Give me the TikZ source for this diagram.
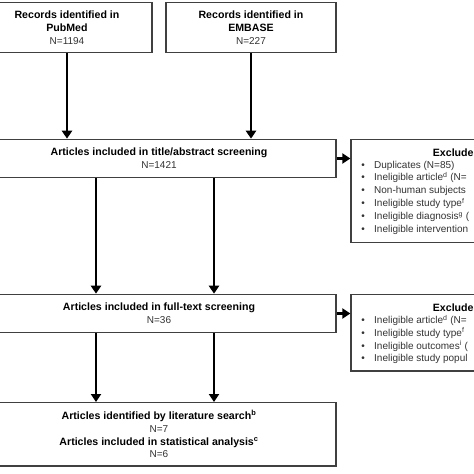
\documentclass[tikz,border=0pt]{standalone}
\usepackage{fontspec}
\setmainfont{Liberation Sans}
\usetikzlibrary{arrows.meta}
\definecolor{boxgray}{HTML}{404040}
\definecolor{txtgray}{HTML}{333333}
\newcommand\hd[1]{{\fontsize{10.6}{12.7}\selectfont\textcolor{black}{\textbf{#1}}}}
\begin{document}
\begin{tikzpicture}[x=1pt,y=-1pt,
  every node/.style={font=\fontsize{10}{12.7}\selectfont, text=txtgray},
  box/.style={draw=boxgray, line width=1.2pt, fill=white, align=center, inner sep=0pt},
  conn/.style={line width=2.6pt, black, -{Triangle[length=8pt,width=10pt]}},
  item/.style={anchor=base west, inner sep=0pt},
  bul/.style={anchor=base, inner sep=0pt}]
\useasboundingbox (0,0) rectangle (474,474);
\clip (0,0) rectangle (474,474);
% main boxes
\node[box, minimum width=170pt, minimum height=50pt] (pub) at (67,27.7)
  {\hd{Records identified in}\\\hd{PubMed}\\N=1194};
\node[box, minimum width=170pt, minimum height=50pt] (emb) at (251,27.7)
  {\hd{Records identified in}\\\hd{EMBASE}\\N=227};
\node[box, minimum width=354pt, minimum height=38.4pt] (scr) at (159,158.5)
  {\hd{Articles included in title/abstract screening}\\N=1421};
\node[box, minimum width=354pt, minimum height=38.4pt] (full) at (159,313.5)
  {\hd{Articles included in full-text screening}\\N=36};
\node[box, minimum width=354pt, minimum height=63.3pt] (fin) at (159,434.3)
  {\hd{Articles identified by literature search\textsuperscript{b}}\\N=7\\
   \hd{Articles included in statistical analysis\textsuperscript{c}}\\N=6};
% excluded boxes
\node[box, minimum width=210pt, minimum height=103.4pt] (ex1) at (456,191) {};
\node[box, minimum width=210pt, minimum height=76.7pt] (ex2) at (456,332.7) {};
\node[item] (ex1h) at (432.7,156.4) {\hd{Excluded}};
\node[item] (ex2h) at (432.7,311.4) {\hd{Excluded}};
\foreach \t [count=\i] in {Duplicates (N=85),
  Ineligible article\textsuperscript{d} (N=,
  Non-human subjects,
  Ineligible study type\textsuperscript{f},
  Ineligible diagnosis\textsuperscript{g} (,
  Ineligible intervention}{
  \node[bul] (ex1b\i) at (363,168+12.95*\i-12.95) {•};
  \node[item] (ex1t\i) at (374,168+12.95*\i-12.95) {\t};
}
\foreach \t [count=\i] in {Ineligible article\textsuperscript{d} (N=,
  Ineligible study type\textsuperscript{f},
  Ineligible outcomes\textsuperscript{i} (,
  Ineligible study popul}{
  \node[bul] (ex2b\i) at (363,323.7+12.75*\i-12.75) {•};
  \node[item] (ex2t\i) at (374,323.7+12.75*\i-12.75) {\t};
}
% connectors
\coordinate (c1) at (96,0);
\coordinate (c2) at (214,0);
\draw[conn] (pub.south) -- (pub.south |- scr.north);
\draw[conn] (emb.south) -- (emb.south |- scr.north);
\draw[conn] (scr.south -| c1) -- (full.north -| c1);
\draw[conn] (scr.south -| c2) -- (full.north -| c2);
\draw[conn] (full.south -| c1) -- (fin.north -| c1);
\draw[conn] (full.south -| c2) -- (fin.north -| c2);
\draw[conn] (scr.east) -- (ex1.west |- scr.east);
\draw[conn] (full.east) -- (ex2.west |- full.east);
\end{tikzpicture}
\end{document}
